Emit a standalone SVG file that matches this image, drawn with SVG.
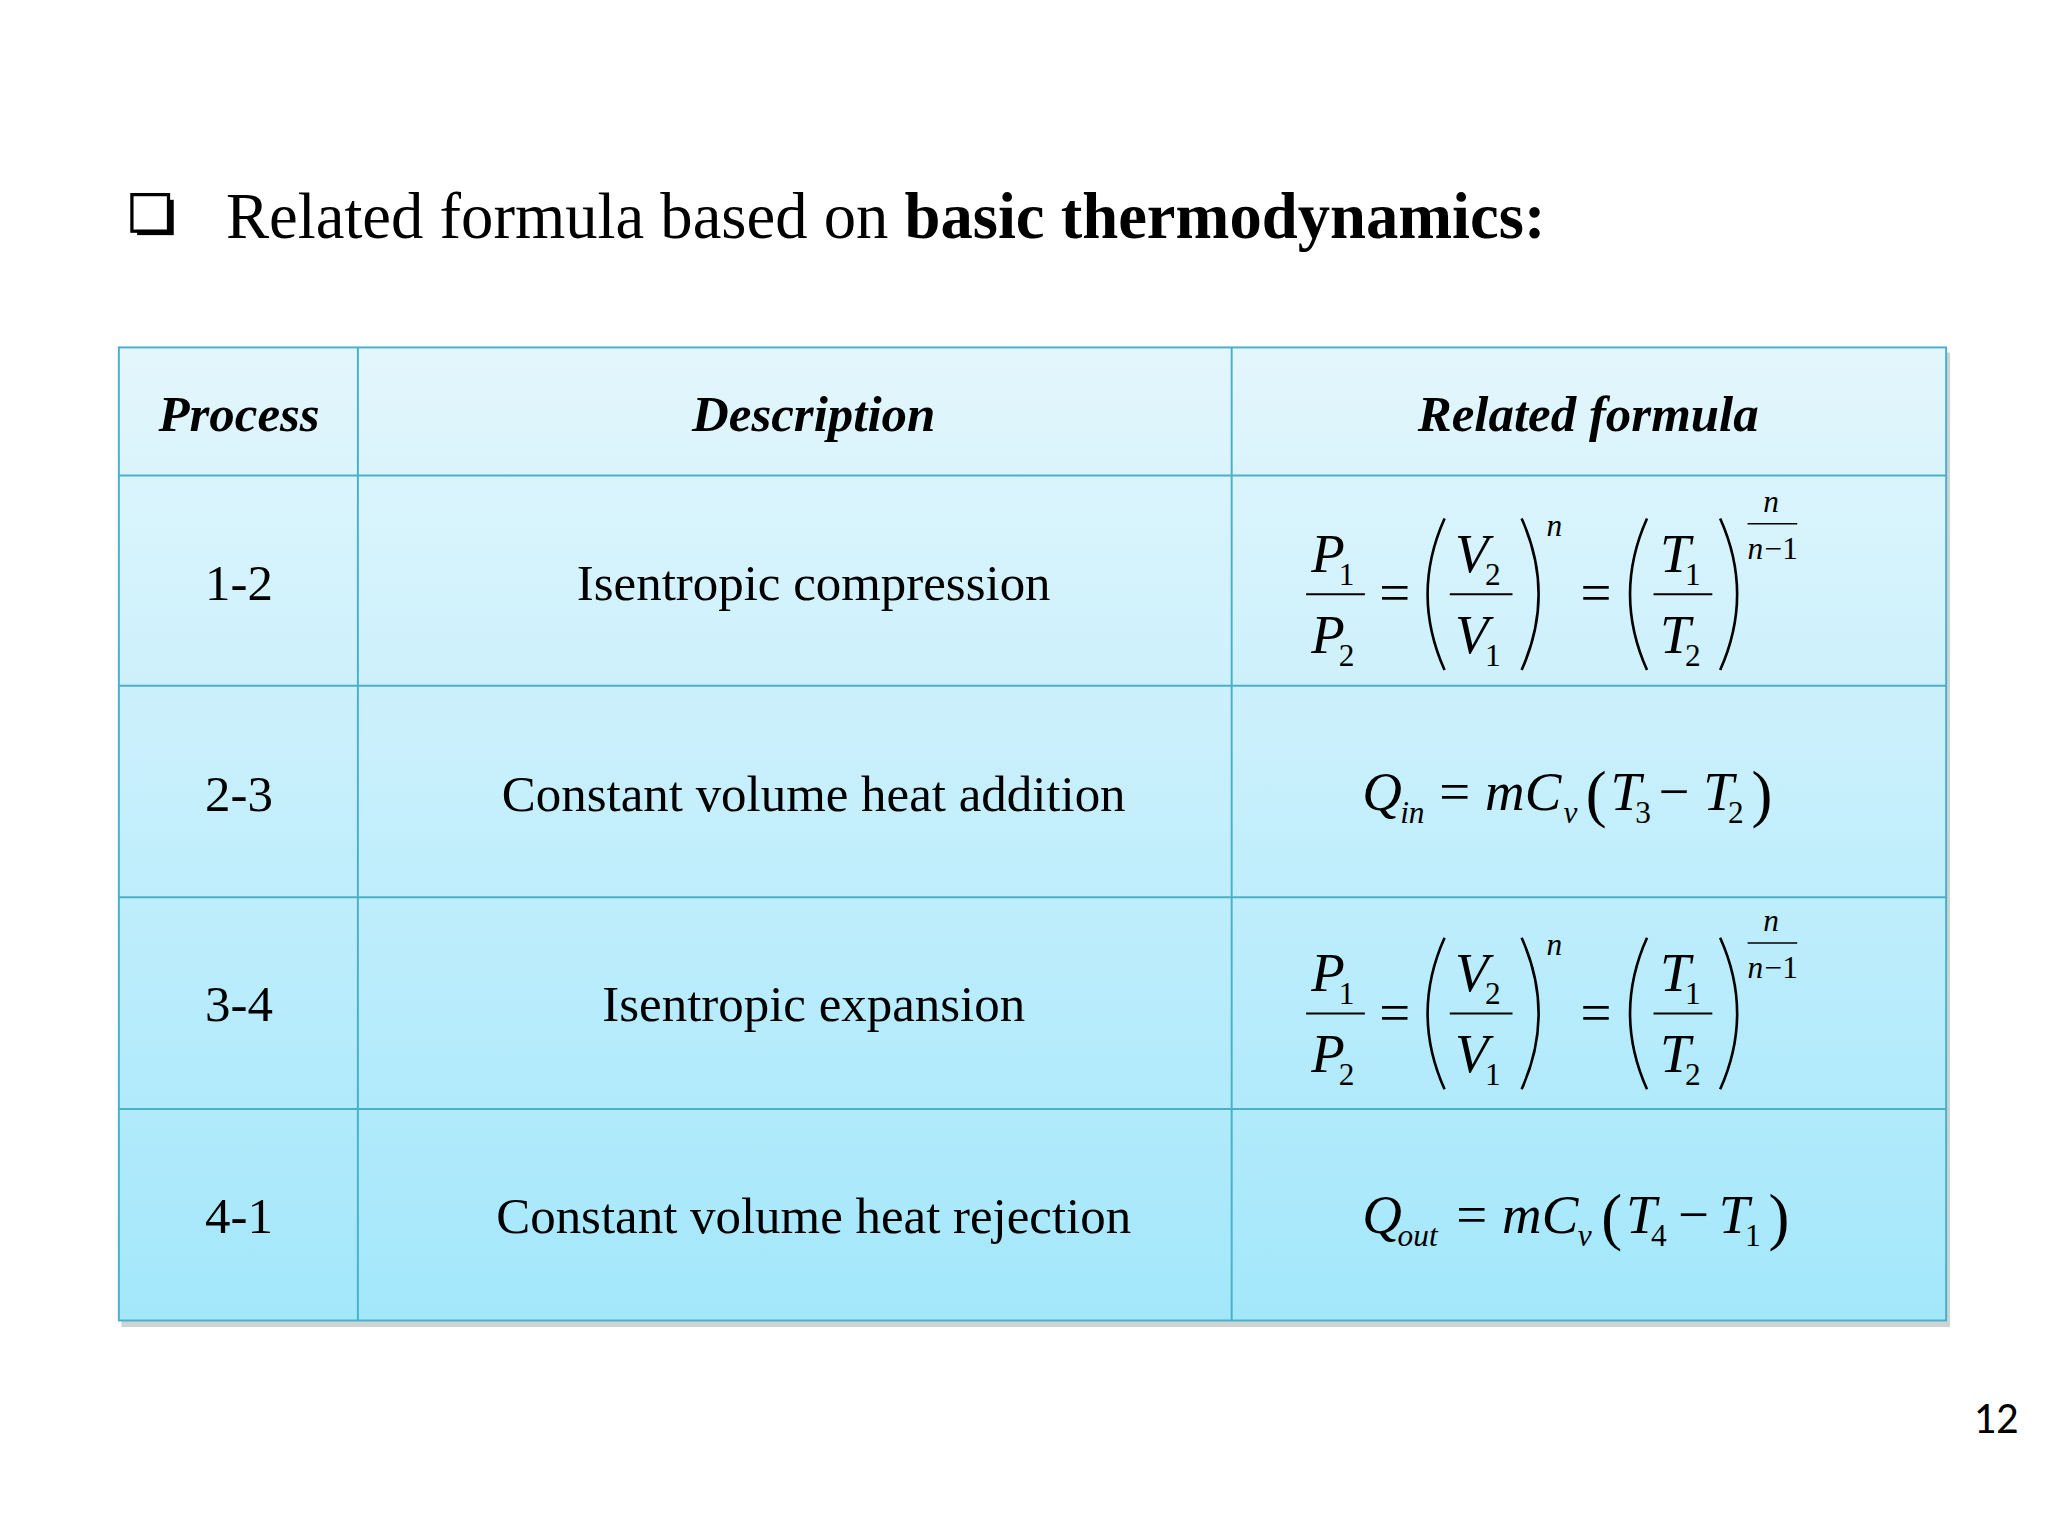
<svg xmlns="http://www.w3.org/2000/svg" width="2048" height="1536" viewBox="0 0 2048 1536">
<style>
.t{font-family:"Liberation Serif",serif;fill:#000}
.h{font-family:"Liberation Serif",serif;font-weight:bold;font-style:italic;font-size:39px;text-anchor:middle}
.b{font-family:"Liberation Serif",serif;font-size:39px;text-anchor:middle}
.m{font-family:"Liberation Serif",serif;font-style:italic;font-size:42px}
.s{font-family:"Liberation Serif",serif;font-size:24px}
.si{font-family:"Liberation Serif",serif;font-style:italic;font-size:24px}
.g{stroke:#4ab0c8;stroke-width:1.5;fill:none}
.ln{stroke:#000;stroke-width:1.6;fill:none}
.p{stroke:#000;stroke-width:2;fill:none}
</style>
<defs>
<linearGradient id="bg" x1="0" y1="0" x2="0" y2="1">
<stop offset="0" stop-color="#e3f6fc"/>
<stop offset="1" stop-color="#a3e7fb"/>
</linearGradient>
<g id="iso">
<text class="m" x="1004" y="438">P</text><text class="s" x="1025" y="448">1</text>
<line class="ln" x1="1000" y1="455" x2="1045" y2="455"/>
<text class="m" x="1004" y="500">P</text><text class="s" x="1025" y="510">2</text>
<text class="m" x="1056" y="468" style="font-style:normal">=</text>
<path class="p" d="M1106,397 Q1080,455 1106,513"/>
<text class="m" x="1114" y="438">V</text><text class="s" x="1137" y="448">2</text>
<line class="ln" x1="1110" y1="455" x2="1158" y2="455"/>
<text class="m" x="1114" y="500">V</text><text class="s" x="1137" y="510">1</text>
<path class="p" d="M1165,397 Q1191,455 1165,513"/>
<text class="si" x="1184" y="410">n</text>
<text class="m" x="1210" y="468" style="font-style:normal">=</text>
<path class="p" d="M1261,397 Q1235,455 1261,513"/>
<text class="m" x="1271" y="438">T</text><text class="s" x="1290" y="448">1</text>
<line class="ln" x1="1266" y1="455" x2="1311" y2="455"/>
<text class="m" x="1271" y="500">T</text><text class="s" x="1290" y="510">2</text>
<path class="p" d="M1317,397 Q1343,455 1317,513"/>
<text class="si" x="1350" y="392">n</text>
<line class="ln" x1="1338" y1="401" x2="1376" y2="401" style="stroke-width:1"/>
<text class="si" x="1338" y="428">n</text><text class="s" x="1351" y="428">−1</text>
</g>
</defs>
<rect width="2048" height="1536" fill="#fff"/>
<g transform="scale(1.30612)">
<g id="title">
<rect x="101" y="149" width="28" height="28" fill="none" stroke="#000" stroke-width="2.5"/>
<rect x="105" y="176" width="27" height="4" fill="#000"/>
<rect x="129" y="153" width="4" height="27" fill="#000"/>
<text class="t" x="173" y="182" font-size="49.5">Related formula based on <tspan font-weight="bold">basic thermodynamics:</tspan></text>
</g>
<g id="table">
<rect x="93" y="270" width="1400" height="746" fill="#9aa" opacity="0.5"/>
<rect x="91" y="266" width="1399" height="745" fill="url(#bg)"/>
<rect class="g" x="91" y="266" width="1399" height="745"/>
<line class="g" x1="274" y1="266" x2="274" y2="1011"/>
<line class="g" x1="943" y1="266" x2="943" y2="1011"/>
<line class="g" x1="91" y1="364" x2="1490" y2="364"/>
<line class="g" x1="91" y1="525" x2="1490" y2="525"/>
<line class="g" x1="91" y1="687" x2="1490" y2="687"/>
<line class="g" x1="91" y1="849" x2="1490" y2="849"/>
</g>
<g id="header">
<text class="h" x="183" y="330">Process</text>
<text class="h" x="623" y="330">Description</text>
<text class="h" x="1216" y="330">Related formula</text>
</g>
<g id="row1"><text class="b" x="183" y="459">1-2</text><text class="b" x="623" y="459">Isentropic compression</text><use href="#iso"/></g>
<g id="row2"><text class="b" x="183" y="621">2-3</text><text class="b" x="623" y="621">Constant volume heat addition</text>
<text class="m" x="1043" y="620">Q</text><text class="si" x="1072" y="630">in</text>
<text class="m" x="1102" y="620" style="font-style:normal">=</text>
<text class="m" x="1137" y="620">mC</text><text class="si" x="1197" y="630">v</text>
<text class="m" x="1214" y="624" style="font-style:normal;font-size:48px">(</text>
<text class="m" x="1233" y="620">T</text><text class="s" x="1252" y="630">3</text>
<text class="m" x="1270" y="620" style="font-style:normal">−</text>
<text class="m" x="1304" y="620">T</text><text class="s" x="1323" y="630">2</text>
<text class="m" x="1341" y="624" style="font-style:normal;font-size:48px">)</text></g>
<g id="row3"><text class="b" x="183" y="782">3-4</text><text class="b" x="623" y="782">Isentropic expansion</text><use href="#iso" transform="translate(0,321)"/></g>
<g id="row4"><text class="b" x="183" y="944">4-1</text><text class="b" x="623" y="944">Constant volume heat rejection</text>
<text class="m" x="1043" y="944">Q</text><text class="si" x="1070" y="954">out</text>
<text class="m" x="1115" y="944" style="font-style:normal">=</text>
<text class="m" x="1150" y="944">mC</text><text class="si" x="1208" y="954">v</text>
<text class="m" x="1226" y="948" style="font-style:normal;font-size:48px">(</text>
<text class="m" x="1245" y="944">T</text><text class="s" x="1264" y="954">4</text>
<text class="m" x="1285" y="944" style="font-style:normal">−</text>
<text class="m" x="1316" y="944">T</text><text class="s" x="1336" y="954">1</text>
<text class="m" x="1354" y="948" style="font-style:normal;font-size:48px">)</text></g>
<text x="1511" y="1097" font-family="Carlito,'Liberation Sans',sans-serif" font-size="34">12</text>
</g>
</svg>
